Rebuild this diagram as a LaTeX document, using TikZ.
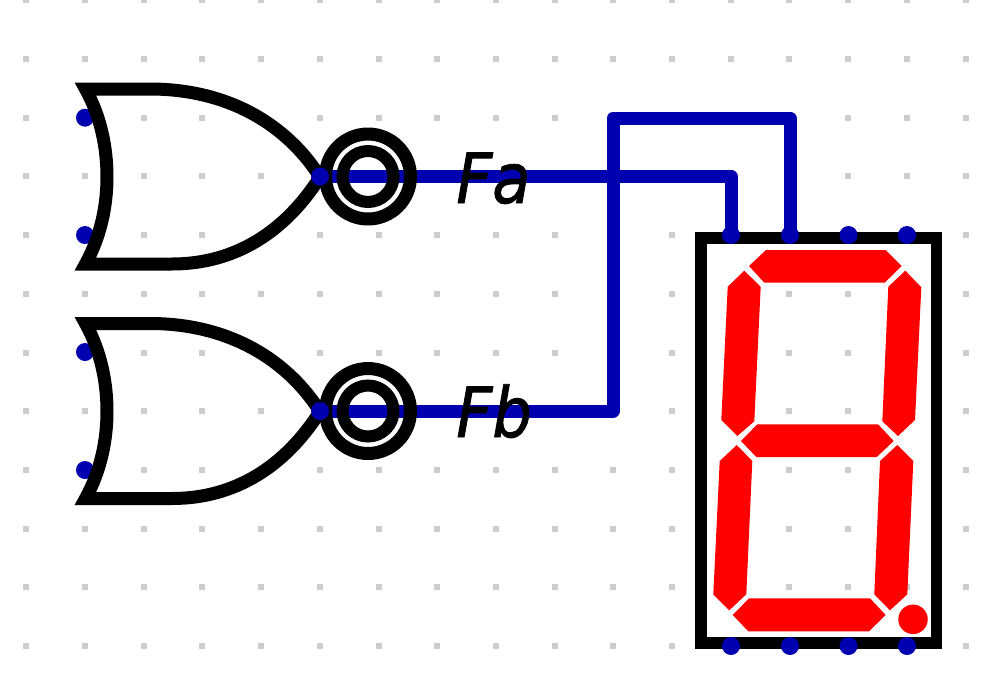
\documentclass[tikz,border=0pt]{standalone}
\usepackage{fontspec}
\newfontfamily\sigfont[FakeStretch=0.9,FakeBold=1.2]{DejaVu Sans Oblique}
\usetikzlibrary{positioning}

\tikzset{
    griddot/.style={fill=gridgray, minimum size=0.12cm, inner sep=0pt, outer sep=0pt},
    pin/.style={circle, fill=wireblue, minimum size=0.36cm, inner sep=0pt, outer sep=0pt},
    wire/.style={draw=wireblue, line width=0.26cm, line join=round},
    gate/.style={draw=black, line width=0.26cm, miter limit=10},
    ring/.style={draw=black, circle, inner sep=0pt, outer sep=0pt},
    segment/.style={fill=red},
    siglabel/.style={font=\sigfont\fontsize{39.5}{40}\selectfont, inner sep=0pt, anchor=base west}
}
\definecolor{wireblue}{RGB}{0,0,176}
\definecolor{gridgray}{RGB}{205,205,205}

\begin{document}
\begin{tikzpicture}[x=0.02cm, y=-0.02cm]
    \useasboundingbox (0,0) rectangle (1000,687);
    \fill[white] (0,0) rectangle (1000,687);

    % Grid
    \foreach \i in {0,...,16}
        \foreach \j in {0,...,11}
            \node[griddot] at ({26.3+58.7*\i},{0.3+58.7*\j}) {};

    % Gate pins
    \node[pin] (a1) at (85,117.7) {};
    \node[pin] (a2) at (85,235) {};
    \node[pin] (b1) at (85,352) {};
    \node[pin] (b2) at (85,470) {};

    % Display pins
    \coordinate (topa) at (731,235);
    \coordinate (topb) at (790,235);
    \coordinate (tipa) at (320,176.5);
    \coordinate (tipb) at (320,411);
    \coordinate (bendb) at (613,118);

    % Wires
    \draw[wire] (tipa) -| (topa);
    \draw[wire] (tipb) -| (bendb) -| (topb);

    % Gates
    \foreach \dy in {0,234.5} {
        \draw[gate, shift={(0,\dy)}] (85.5,89) -- (150,89)
            .. controls (225,89) and (285,122) .. (320,177)
            .. controls (285,232) and (235,264) .. (172,264)
            -- (85.5,264) .. controls (101,236) and (107,205) .. (107,177)
            .. controls (107,148) and (101,117) .. cycle;
        \node[ring, line width=0.26cm, minimum size=1.7cm] at (368,{176.5+\dy}) {};
        \node[ring, line width=0.24cm, minimum size=1.02cm] at (368,{176.5+\dy}) {};
    }

    % Labels
    \node[siglabel] (fa) at (456,203) {Fa};
    \node[siglabel] (fb) at (456,437) {Fb};

    % Display
    \draw[black, line width=0.234cm] (701,238) rectangle (936.5,643);
    \fill[segment] (766,250) -- (885.7,250) -- (901.7,266) -- (884.7,282.7) -- (764.3,282.7) -- (749,266) -- cycle;
    \fill[segment] (744.3,270.7) -- (760.7,286.7) -- (754.3,421.3) -- (737.3,436) -- (721.3,420) -- (727.7,286.7) -- cycle;
    \fill[segment] (905.3,270.7) -- (921.3,287.3) -- (915,420) -- (898,436) -- (882.3,421.3) -- (888.3,286.7) -- cycle;
    \fill[segment] (757.3,424.3) -- (878,424.3) -- (893.7,441) -- (876.7,457) -- (756.3,457) -- (741,441) -- cycle;
    \fill[segment] (736.7,445) -- (752.3,461) -- (746.3,594.3) -- (729.3,610.3) -- (713.3,594.3) -- (719.7,461) -- cycle;
    \fill[segment] (897.3,445) -- (913.3,461) -- (907.3,594.3) -- (890,610.3) -- (874.3,594.3) -- (880,461) -- cycle;
    \fill[segment] (749,598.3) -- (870,598.3) -- (885.7,615) -- (869,631.3) -- (748.3,631.3) -- (732.7,615) -- cycle;
    \node[circle, fill=red, minimum size=0.59cm, inner sep=0pt] (decpoint) at (913,619.3) {};

    % Pins on top
    \node[pin] (taila) at (tipa) {};
    \node[pin] (tailb) at (tipb) {};
    \foreach \x [count=\n] in {731,790,848.5,907} {
        \node[pin] (dtop\n) at (\x,235) {};
        \node[pin] (dbot\n) at (\x,646) {};
    }
\end{tikzpicture}
\end{document}
